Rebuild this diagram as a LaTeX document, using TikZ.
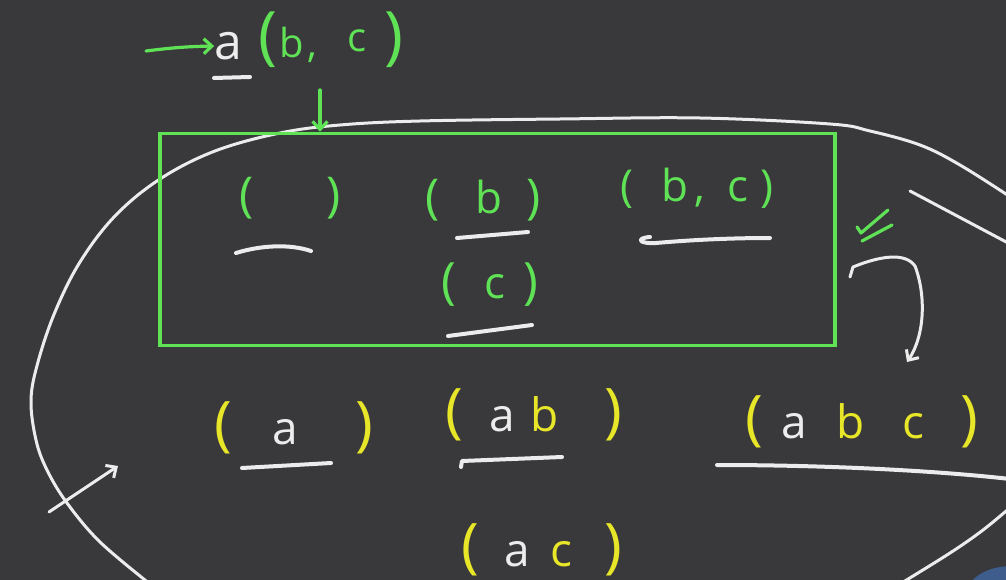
\documentclass[tikz,border=0pt]{standalone}
\usepackage{fontspec}
\setmainfont{Open Sans}
\usetikzlibrary{arrows.meta}
\definecolor{bgc}{RGB}{57,56,59}
\definecolor{hwgreen}{RGB}{96,226,86}
\definecolor{hwyellow}{RGB}{232,230,40}
\definecolor{hwwhite}{RGB}{236,236,236}
\definecolor{blob}{RGB}{62,92,140}
\tikzset{
  hw/.style={inner sep=0pt, outer sep=0pt},
  boxtxt/.style={hw, text=hwgreen, font=\fontsize{44}{44}\selectfont},
  toptxt/.style={hw, text=hwgreen, font=\fontsize{40}{40}\selectfont},
  lowtxt/.style={hw, text=hwyellow, font=\fontsize{46}{46}\selectfont},
  gline/.style={draw=hwgreen, line width=3.2pt, line cap=round, line join=round},
  wline/.style={draw=hwwhite, line width=3pt, line cap=round, line join=round},
  uline/.style={draw=hwwhite, line width=4pt, line cap=round, line join=round},
  barb/.style={-{Straight Barb[length=8pt,width=15pt]}},
}
\newcommand{\wa}{{\color{hwwhite}a}}
\newcommand{\pp}[2]{{\fontsize{#1}{#1}\selectfont #2}}
\begin{document}
\begin{tikzpicture}[x=1pt,y=-1pt]
\useasboundingbox (0,0) rectangle (1006,580);
\fill[bgc] (0,0) rectangle (1006,580);
\clip (0,0) rectangle (1006,580);
% webcam blob
\fill[blob] (1012,592) ellipse [x radius=44pt, y radius=26pt];
% big white loop
\draw[wline] plot[smooth, tension=0.6] coordinates {(1012,198) (960,165) (920,145) (870,131) (830,124) (700,118) (560,119) (420,121) (340,125) (280,133) (215,151) (160,179) (115,216) (80,262) (55,312) (38,362) (31,400) (36,440) (47,470) (67,503) (100,542) (150,584)};
\draw[wline] plot[smooth, tension=0.6] coordinates {(900,584) (950,553) (983,530) (1012,506)};
\draw[wline] (910,191) -- (1010,244);
% green box
\node[draw=hwgreen, line width=3.6pt, minimum width=675pt, minimum height=212pt, inner sep=0pt] (box) at (497.5,239.5) {};
% top expression
\node[hw, text=hwwhite, font=\fontsize{50}{50}\selectfont] (ta) at (228,46) {a};
\node[toptxt] (tbc) at (331,40) {\pp{64}{(}\hspace{2pt}b\hspace{4pt},\hspace{30pt}\raisebox{6pt}{c}\hspace{18pt}\pp{64}{)}};
\coordinate (tastart) at (146,51);
\draw[gline, barb] (tastart) to[bend left=3] (ta.west);
\draw[uline] (214,78) -- (250,77);
\coordinate (dtop) at (320,90);
\draw[gline, barb] (dtop) -- (box.north -| dtop);
% box contents
\node[boxtxt] (g1) at (290,198) {\pp{48}{(}\hspace{72pt}\pp{48}{)}};
\node[boxtxt] (g2) at (483,200) {\pp{48}{(}\hspace{36pt}b\hspace{24pt}\pp{48}{)}};
\node[boxtxt] (g3) at (697,188) {(\hspace{28pt}b\hspace{6pt},\hspace{22pt}c\hspace{12pt})};
\node[boxtxt] (g4) at (490,285) {\pp{50}{(}\hspace{28pt}c\hspace{18pt}\pp{50}{)}};
\draw[uline] (236,253) .. controls (262,245) and (290,244) .. (311,251);
\draw[uline] (457,238) -- (528,232);
\draw[uline] (650,237) .. controls (636,238) and (638,244) .. (656,243) .. controls (690,240) and (730,238) .. (770,238);
\draw[uline] (448,336) -- (532,325);
% check marks and turn arrow
\draw[gline] (857,227) -- (861,233) -- (888,210);
\draw[gline] (862,241) -- (892,225);
\coordinate (ca) at (850,277);
\coordinate (cb) at (907,362);
\draw[wline, barb] (ca) -- (853,267) .. controls (880,256) and (905,252) .. (915,266) .. controls (926,295) and (925,335) .. (cb);
% lower row
\node[lowtxt] (y1) at (294,428) {\pp{60}{(}\hspace{40pt}\wa\hspace{57pt}\pp{60}{)}};
\node[lowtxt] (y2) at (534,415) {\pp{60}{(}\hspace{26pt}\wa\hspace{15pt}b\hspace{46pt}\pp{60}{)}};
\node[lowtxt] (y3) at (862,422) {\pp{60}{(}\hspace{18pt}\wa\hspace{30pt}b\hspace{38pt}c\hspace{36pt}\pp{60}{)}};
\node[lowtxt] (y4) at (542,550) {\pp{60}{(}\hspace{25pt}\wa\hspace{21pt}c\hspace{32pt}\pp{60}{)}};
\draw[uline] (242,468) -- (331,463);
\draw[uline] (461,467) -- (462,461) -- (562,457);
\draw[uline] (717,465) .. controls (820,465) and (930,470) .. (1010,479);
% left arrow
\coordinate (la) at (49,512);
\coordinate (lb) at (118,466);
\draw[wline, barb] (la) -- (lb);
\end{tikzpicture}
\end{document}
